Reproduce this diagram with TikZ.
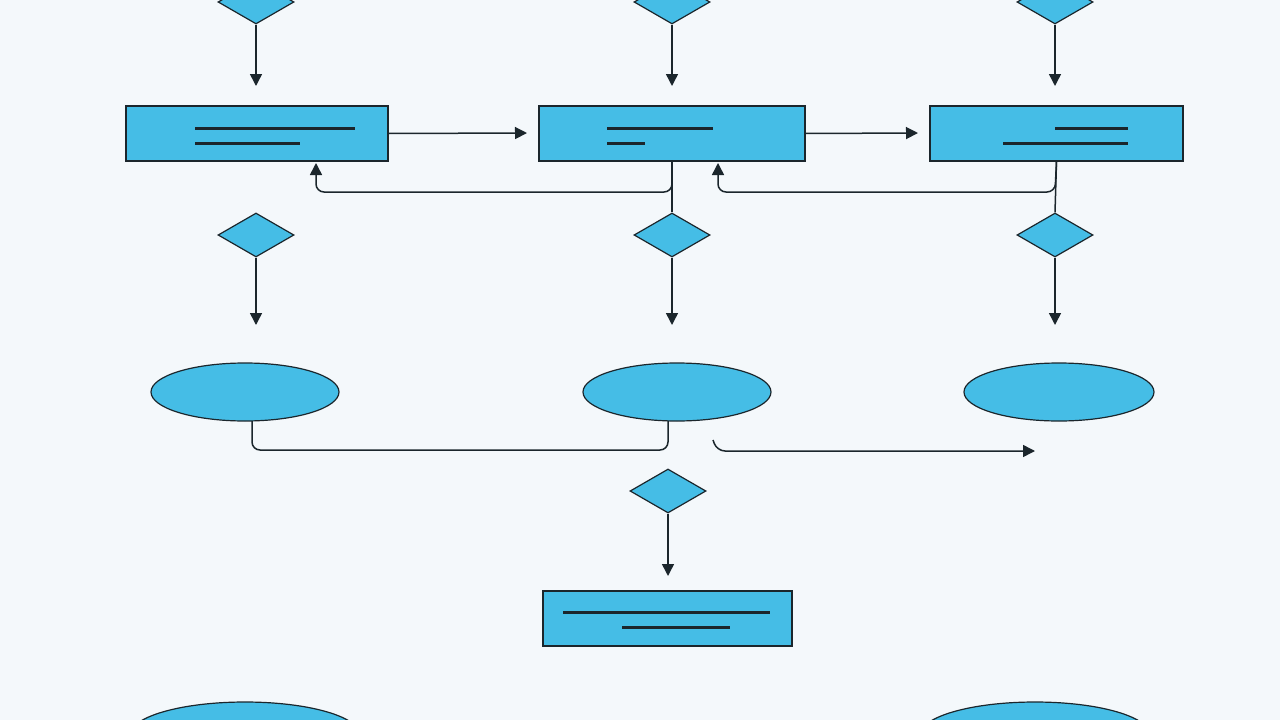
\documentclass[tikz,border=0pt]{standalone}
\usetikzlibrary{shapes.geometric,arrows.meta}
\definecolor{fillb}{HTML}{45BDE6}
\definecolor{ink}{HTML}{1B262C}
\definecolor{bg}{HTML}{F4F8FB}
\begin{document}
\begin{tikzpicture}[x=1pt,y=-1pt,
 box/.style={draw=ink,fill=fillb,line width=1.2pt,minimum width=#1,minimum height=55pt,inner sep=0},
 dia/.style={diamond,draw=ink,fill=fillb,line width=1.2pt,minimum width=76pt,minimum height=44pt,inner sep=0},
 ell/.style={ellipse,draw=ink,fill=fillb,line width=1.2pt,minimum width=#1,minimum height=58pt,inner sep=0},
 arr/.style={draw=ink,line width=1.5pt,-{Triangle[length=12pt,width=12pt]}},
 ln/.style={draw=ink,line width=1.5pt,rounded corners=8pt},
 bar/.style={draw=ink,line width=3pt}]
\fill[bg] (0,0) rectangle (1280,720);
\useasboundingbox (0,0) rectangle (1280,720);
% top diamonds
\node[dia] (t1) at (256,2) {};
\node[dia] (t2) at (672,2) {};
\node[dia] (t3) at (1055,2) {};
% rectangles
\node[box=262pt] (r1) at (257,133.5) {};
\node[box=266pt] (r2) at (672,133.5) {};
\node[box=253pt] (r3) at (1056.5,133.5) {};
\node[box=249pt] (r4) at (667.5,618.5) {};
\draw[bar] (195,128) -- (355,128); \draw[bar] (195,143) -- (300,143);
\draw[bar] (607,128) -- (713,128); \draw[bar] (607,143) -- (645,143);
\draw[bar] (1055,128) -- (1128,128); \draw[bar] (1003,143) -- (1128,143);
\draw[bar] (563,612) -- (770,612); \draw[bar] (622,627) -- (730,627);
% mid diamonds
\node[dia] (d1) at (256,235) {};
\node[dia] (d2) at (672,235) {};
\node[dia] (d3) at (1055,235) {};
\node[dia] (d4) at (668,491) {};
% ellipses
\node[ell=188pt] (e1) at (245,392) {};
\node[ell=188pt] (e2) at (677,392) {};
\node[ell=190pt] (e3) at (1059,392) {};
\node[ell=230pt,minimum height=66pt] (e4) at (245,735) {};
\node[ell=230pt,minimum height=66pt] (e5) at (1035,735) {};
% arrows
\coordinate (a1) at (256,86); \coordinate (a2) at (672,86); \coordinate (a3) at (1055,86);
\draw[arr] (t1.south) -- (a1); \draw[arr] (t2.south) -- (a2); \draw[arr] (t3.south) -- (a3);
\coordinate (h1) at (527,133); \coordinate (h2) at (918,133);
\draw[arr] (r1.east) -- (h1); \draw[arr] (r2.east) -- (h2);
\coordinate (f1) at (316,163); \coordinate (f2) at (718,163);
\draw[arr,rounded corners=8pt] (r2.south) -- (672,192) -- (316,192) -- (f1);
\draw[arr,rounded corners=8pt] (r3.south) -- (1055,192) -- (718,192) -- (f2);
\draw[ln] (r2.south) -- (d2.north);
\draw[ln] (r3.south) -- (d3.north);
\coordinate (m1) at (256,325); \coordinate (m2) at (672,325); \coordinate (m3) at (1055,325);
\draw[arr] (d1.south) -- (m1); \draw[arr] (d2.south) -- (m2); \draw[arr] (d3.south) -- (m3);
\draw[ln] (252,421) -- (252,450) -- (668,450) -- (668,421);
\coordinate (s1) at (713,440); \coordinate (s2) at (1035,451);
\draw[arr,rounded corners=8pt] (s1) -- (717,451) -- (s2);
\coordinate (b1) at (668,576);
\draw[arr] (d4.south) -- (b1);
\end{tikzpicture}
\end{document}
